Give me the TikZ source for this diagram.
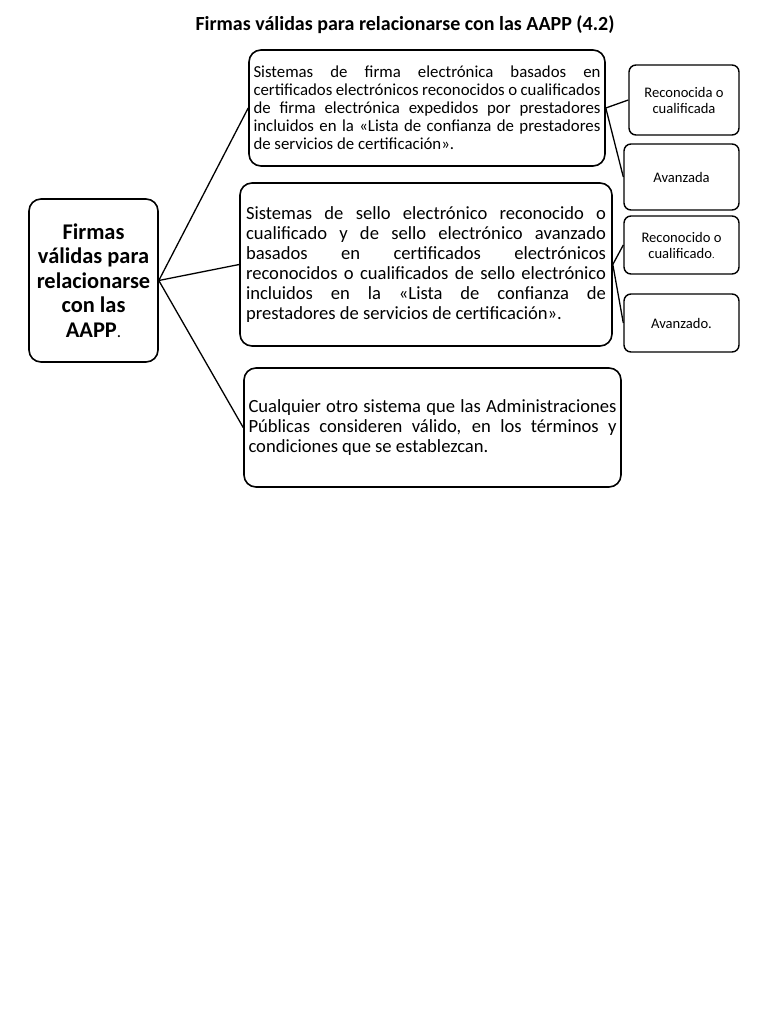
\documentclass[tikz,border=0pt]{standalone}
\usepackage{fontspec}
\setmainfont{Carlito}
\tikzset{
	box/.style={draw, line width=1.6pt, rounded corners=12pt, inner sep=0pt, align=justify},
	tag/.style={draw, line width=1.4pt, rounded corners=7pt, inner sep=0pt, align=center,
		font=\fontsize{14.6}{16}\selectfont},
	link/.style={line width=1.3pt}
}
\newcommand{\boxfont}[2]{\fontsize{#1}{#2}\selectfont\hyphenpenalty=10000\exhyphenpenalty=10000}
\begin{document}
\begin{tikzpicture}[x=1pt, y=-1pt]
	\useasboundingbox (0, 0) rectangle (768, 1024);
	\node[font=\fontsize{20}{24}\selectfont\bfseries] at (405, 25) (t) {Firmas válidas para relacionarse con las AAPP (4.2)};
	\node[box, align=center, minimum width=129pt, minimum height=163pt, font=\boxfont{22.4}{24.5}\bfseries] at (93.5, 280.5) (0)
		{Firmas\\válidas para\\relacionarse\\con las\\AAPP{\mdseries\fontsize{17}{24}\selectfont.}};
	\node[box, minimum width=356pt, minimum height=116pt, text width=347pt, font=\boxfont{16.8}{18}] at (427, 108) (1)
		{Sistemas de firma electrónica basados en\linebreak certificados electrónicos reconocidos o cualificados de firma electrónica expedidos por prestadores incluidos en la «Lista de confianza de prestadores de servicios de certificación».};
	\node[box, minimum width=372pt, minimum height=163pt, text width=360pt, font=\boxfont{18.6}{20}] at (426, 264.5) (2)
		{Sistemas de sello electrónico reconocido o cualificado y de sello electrónico avanzado basados en certificados electrónicos reconocidos o cualificados de sello electrónico incluidos en la «Lista de confianza de prestadores de servicios de certificación».};
	\node[box, minimum width=377pt, minimum height=119pt, text width=368pt, font=\boxfont{18.6}{20}] at (432.5, 427.5) (3)
		{Cualquier otro sistema que las Administraciones Públicas consideren válido, en los términos y condiciones que se establezcan.};
	\node[tag, minimum width=110pt, minimum height=70pt] at (684, 100) (4) {Reconocida o\\cualificada};
	\node[tag, minimum width=115pt, minimum height=66pt] at (681.5, 177) (5) {Avanzada};
	\node[tag, minimum width=115pt, minimum height=58pt] at (681.5, 245) (6) {Reconocido o\\cualificado{\fontsize{10}{16}\selectfont.}};
	\node[tag, minimum width=115pt, minimum height=58pt] at (681.5, 323) (7) {Avanzado.};
	\draw[link] (0.east) -- (1.west);
	\draw[link] (0.east) -- (2.west);
	\draw[link] (0.east) -- (3.west);
	\draw[link] (1.east) -- (4.west);
	\draw[link] (1.east) -- (5.west);
	\draw[link] (2.east) -- (6.west);
	\draw[link] (2.east) -- (7.west);
\end{tikzpicture}
\end{document}
